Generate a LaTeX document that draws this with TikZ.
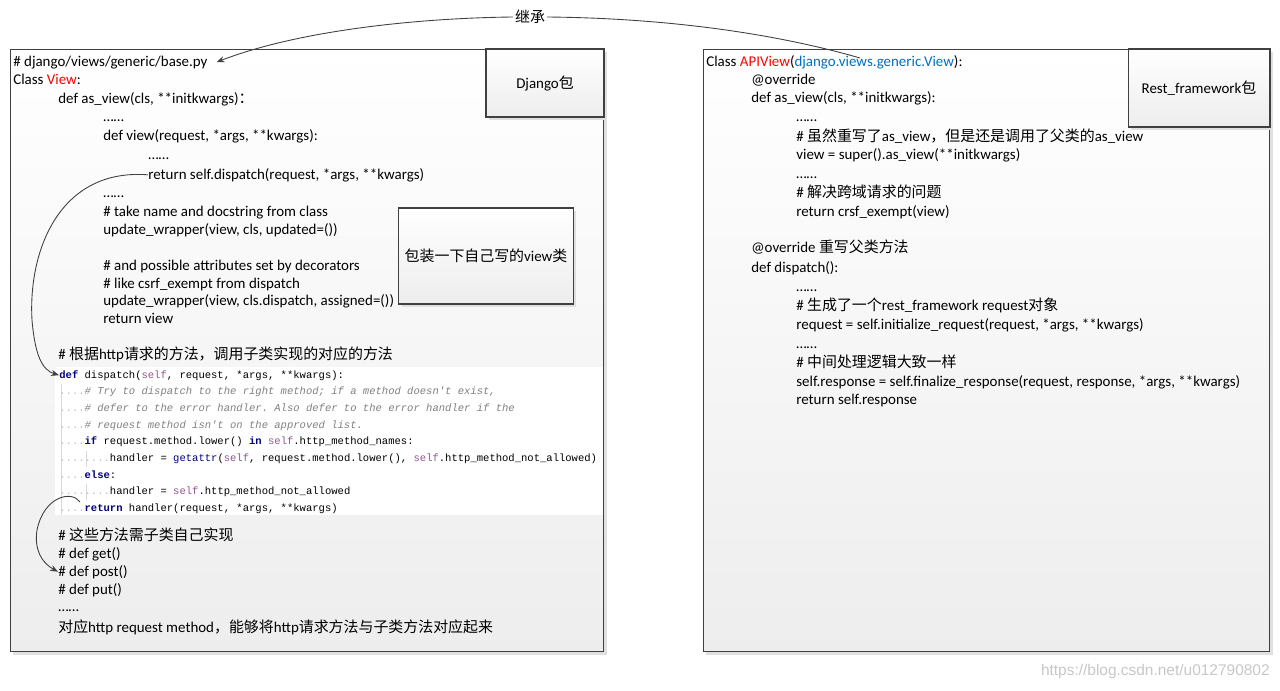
\documentclass[tikz,border=0pt]{standalone}
\usepackage{fontspec}
\setmainfont{Carlito}
\newfontfamily\cjk{Noto Sans CJK SC}
\newfontfamily\codefont{Liberation Mono}
\newfontfamily\wmfont{Liberation Sans}
\usetikzlibrary{arrows.meta,shadows}

\definecolor{kwblue}{HTML}{000080}
\definecolor{selfpurple}{HTML}{94558D}
\definecolor{pkgblue}{HTML}{0070C0}
\definecolor{cmtgray}{HTML}{808080}
\definecolor{linegray}{HTML}{404040}

\newcommand{\zh}[1]{{\cjk #1}}
\newcommand{\kw}[1]{\textcolor{kwblue}{\bfseries #1}}
\newcommand{\slf}{\textcolor{selfpurple}{self}}
\newcommand{\cmt}[1]{\textcolor{cmtgray}{\itshape #1}}
\newcommand{\dts}[1]{\textcolor{black!25}{#1}}

\tikzset{
  txt/.style={anchor=base west, inner sep=0pt, font=\fontsize{8.5}{10}\selectfont},
  code/.style={anchor=base west, inner sep=0pt, font=\codefont\fontsize{6}{7}\selectfont\frenchspacing},
  pkgbox/.style={draw=linegray, line width=0.6pt, top color=white, bottom color=black!7,
    drop shadow={shadow xshift=0.06cm, shadow yshift=-0.06cm, fill=black!12, opacity=1},
    font=\fontsize{8.5}{10}\selectfont, align=center},
  link/.style={draw=linegray, line width=0.5pt},
  tip/.style={-{Stealth[length=4.5pt,width=3.5pt]}}
}

\begin{document}
\begin{tikzpicture}[x=0.02cm, y=-0.02cm]
    \useasboundingbox (0,0) rectangle (1280,690);

    % the two packages
    \node [pkgbox, minimum width=11.88cm, minimum height=12.06cm] (djbox) at (307,350.5) {};
    \node [pkgbox, minimum width=11.34cm, minimum height=12.06cm] (rfbox) at (986.5,350.5) {};
    \node [pkgbox, minimum width=2.36cm, minimum height=1.36cm] (djlabel) at (545,83) {Django\zh{包}};
    \node [pkgbox, minimum width=2.84cm, minimum height=1.56cm] (rflabel) at (1199,88) {Rest\_framework\zh{包}};

    % django/views/generic/base.py
    \node [txt] (basepy) at (13,66) {\# django/views/generic/base.py};
    \node [txt] (clsview) at (13,84) {Class \textcolor{red}{View}:};
    \node [txt] (asview) at (58,103) {def as\_view(cls, **initkwargs)\zh{：}};
    \node [txt] (dots1) at (103,121) {……};
    \node [txt] (defview) at (103,140) {def view(request, *args, **kwargs):};
    \node [txt] (dots2) at (148,159) {……};
    \node [txt] (retdisp) at (148,179) {return self.dispatch(request, *args, **kwargs)};
    \node [txt] (dots3) at (103,197) {……};
    \node [txt] (take) at (103,216) {\# take name and docstring from class};
    \node [txt] (upd1) at (103,234) {update\_wrapper(view, cls, updated=())};
    \node [txt] (poss) at (103,270) {\# and possible attributes set by decorators};
    \node [txt] (like) at (103,288) {\# like csrf\_exempt from dispatch};
    \node [txt] (upd2) at (103,305) {update\_wrapper(view, cls.dispatch, assigned=())};
    \node [txt] (retview) at (103,323) {return view};
    \node [pkgbox, minimum width=3.48cm, minimum height=1.92cm] (wrap) at (486,256) {\zh{包装一下自己写的}view\zh{类}};
    \node [txt] (bymethod) at (58,359) {\# \zh{根据}http\zh{请求的方法，调用子类实现的对应的方法}};

    % dispatch source
    \fill [white] (55,367) rectangle (603,515);
    \draw [black!15, line width=0.4pt] (61,384) -- (61,515);
    \draw [black!15, line width=0.4pt] (86,451) -- (86,467) (86,484) -- (86,500);
    \node [code] (code0) at (59,378) {\kw{def} dispatch(\slf, request, *args, **kwargs):};
    \node [code] (code1) at (59,394.7) {\dts{....}\cmt{\# Try to dispatch to the right method; if a method doesn't exist,}};
    \node [code] (code2) at (59,411.4) {\dts{....}\cmt{\# defer to the error handler. Also defer to the error handler if the}};
    \node [code] (code3) at (59,428) {\dts{....}\cmt{\# request method isn't on the approved list.}};
    \node [code] (code4) at (59,444.8) {\dts{....}\kw{if} request.method.lower() \kw{in} \slf.http\_method\_names:};
    \node [code] (code5) at (59,461.5) {\dts{........}handler = \textcolor{kwblue}{getattr}(\slf, request.method.lower(), \slf.http\_method\_not\_allowed)};
    \node [code] (code6) at (59,478) {\dts{....}\kw{else}:};
    \node [code] (code7) at (59,494.8) {\dts{........}handler = \slf.http\_method\_not\_allowed};
    \node [code] (code8) at (59,511.5) {\dts{....}\kw{return} handler(request, *args, **kwargs)};

    \node [txt] (sub) at (58,540) {\# \zh{这些方法需子类自己实现}};
    \node [txt] (get) at (58,558) {\# def get()};
    \node [txt] (post) at (58,576) {\# def post()};
    \node [txt] (put) at (58,594) {\# def put()};
    \node [txt] (dots4) at (58,611) {……};
    \node [txt] (mapping) at (58,632) {\zh{对应}http request method\zh{，能够将}http\zh{请求方法与子类方法对应起来}};

    % rest_framework APIView
    \node [txt] (apiview) at (706,66) {Class \textcolor{red}{APIView}(\textcolor{pkgblue}{django.views.generic.View}):};
    \node [txt] (ov1) at (751,84) {@override};
    \node [txt] (asview2) at (751,102) {def as\_view(cls, **initkwargs):};
    \node [txt] (rd1) at (796,121) {……};
    \node [txt] (rc1) at (796,141) {\# \zh{虽然重写了}as\_view\zh{，但是还是调用了父类的}as\_view};
    \node [txt] (rsuper) at (796,159) {view = super().as\_view(**initkwargs)};
    \node [txt] (rd2) at (796,178) {……};
    \node [txt] (rc2) at (796,197) {\# \zh{解决跨域请求的问题}};
    \node [txt] (rcsrf) at (796,216) {return crsf\_exempt(view)};
    \node [txt] (ov2) at (751,252) {@override \zh{重写父类方法}};
    \node [txt] (rdisp) at (751,272) {def dispatch():};
    \node [txt] (rd3) at (796,291) {……};
    \node [txt] (rc3) at (796,310) {\# \zh{生成了一个}rest\_framework request\zh{对象}};
    \node [txt] (rinit) at (796,329) {request = self.initialize\_request(request, *args, **kwargs)};
    \node [txt] (rd4) at (796,348) {……};
    \node [txt] (rc4) at (796,367) {\# \zh{中间处理逻辑大致一样}};
    \node [txt] (rfin) at (796,386) {self.response = self.finalize\_response(request, response, *args, **kwargs)};
    \node [txt] (rret) at (796,404) {return self.response};

    % inheritance
    \node [fill=white, inner sep=1pt, font=\cjk\fontsize{8.5}{10}\selectfont] (jc) at (530,17) {继承};
    \coordinate (ihfrom) at (860,58);
    \draw [link] (ihfrom) .. controls (770,32) and (660,18) .. (jc.east);
    \draw [link, tip] (jc.west) .. controls (420,18) and (300,30) .. ([xshift=5pt]basepy.east);

    % calls
    \draw [link, tip] (retdisp.west) .. controls (60,168) and (28,250) .. (32,320)
        .. controls (35,355) and (42,370) .. (code0.west);
    \coordinate (retstart) at (80,502);
    \draw [link, tip] (retstart) .. controls (72,490) and (44,496) .. (37,530)
        .. controls (34,550) and (42,563) .. (post.west);

    \node [anchor=base east, inner sep=0pt, text=black!22, font=\wmfont\fontsize{8.8}{10}\selectfont] (wm) at (1270,675) {https://blog.csdn.net/u012790802};
  \end{tikzpicture}
\end{document}
